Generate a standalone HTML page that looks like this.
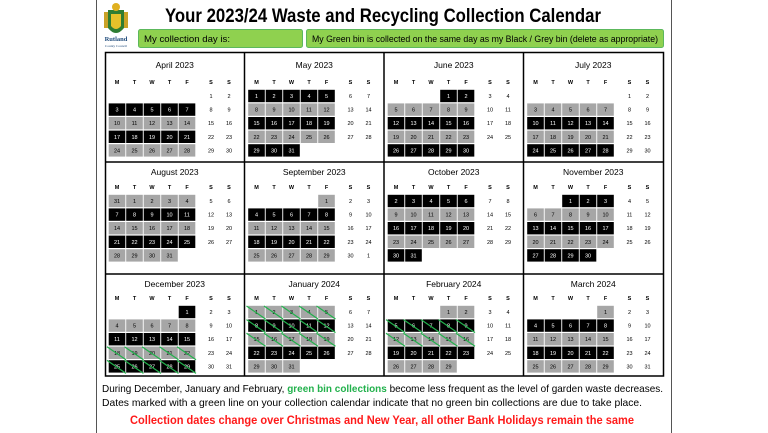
<!DOCTYPE html>
<html><head><meta charset="utf-8"><style>
html,body{margin:0;padding:0;background:#fff;}
svg{display:block;font-family:"Liberation Sans",sans-serif;}
</style></head><body>
<svg id="cal" width="768" height="433" viewBox="0 0 768 433" xmlns="http://www.w3.org/2000/svg">
<rect x="0" y="0" width="768" height="433" fill="#fff"/>
<line x1="96.5" y1="0" x2="96.5" y2="433" stroke="#555" stroke-width="1"/>
<line x1="671.5" y1="0" x2="671.5" y2="433" stroke="#555" stroke-width="1"/>
<g>
<path d="M108 10 L124 10 L124 28 Q116 38 108 28 Z" fill="#2f7d32"/>
<circle cx="116" cy="7" r="4" fill="#e0b020"/>
<path d="M111 14 L121 14 L121 26 Q116 32 111 26 Z" fill="#e6c12a"/>
<rect x="104" y="12" width="4" height="16" fill="#c9a227"/>
<rect x="124" y="12" width="4" height="16" fill="#c9a227"/>
<text x="116" y="41" font-size="6.5" font-family="Liberation Serif,serif" font-weight="bold" fill="#1e4a7a" text-anchor="middle">Rutland</text>
<text x="116" y="47" font-size="3.5" font-family="Liberation Serif,serif" fill="#1e4a7a" text-anchor="middle">County Council</text>
</g>
<text x="383" y="22" font-size="19" font-weight="bold" text-anchor="middle" textLength="436" lengthAdjust="spacingAndGlyphs">Your 2023/24 Waste and Recycling Collection Calendar</text>
<rect x="138.5" y="29.5" width="164" height="18" rx="2" fill="#8fd14f" stroke="#5cb85c"/>
<text x="144" y="42" font-size="9" textLength="86" lengthAdjust="spacingAndGlyphs">My collection day is:</text>
<rect x="306.5" y="29.5" width="357" height="18" rx="2" fill="#8fd14f" stroke="#5cb85c"/>
<text x="312" y="42" font-size="9" textLength="346" lengthAdjust="spacingAndGlyphs">My Green bin is collected on the same day as my Black / Grey bin (delete as appropriate)</text>
<g id="grid"></g>
<text x="102" y="392" font-size="10.5" textLength="561" lengthAdjust="spacingAndGlyphs">During December, January and February, <tspan fill="#22b14c" font-weight="bold">green bin collections</tspan> become less frequent as the level of garden waste decreases.</text>
<text x="102" y="406" font-size="10.5" textLength="540" lengthAdjust="spacingAndGlyphs">Dates marked with a green line on your collection calendar indicate that no green bin collections are due to take place.</text>
<text x="382" y="424" font-size="11.5" font-weight="bold" fill="#ff1a1a" text-anchor="middle" textLength="504" lengthAdjust="spacingAndGlyphs">Collection dates change over Christmas and New Year, all other Bank Holidays remain the same</text>
</svg>
<script>
const monthNames=["April 2023","May 2023","June 2023","July 2023","August 2023","September 2023","October 2023","November 2023","December 2023","January 2024","February 2024","March 2024"];
const dayHeaders=["M","T","W","T","F","S","S"];
const _=null;
const monthRows=[
 [[_,_,_,_,_,1,2],[3,4,5,6,7,8,9],[10,11,12,13,14,15,16],[17,18,19,20,21,22,23],[24,25,26,27,28,29,30]],
 [[1,2,3,4,5,6,7],[8,9,10,11,12,13,14],[15,16,17,18,19,20,21],[22,23,24,25,26,27,28],[29,30,31,_,_,_,_]],
 [[_,_,_,1,2,3,4],[5,6,7,8,9,10,11],[12,13,14,15,16,17,18],[19,20,21,22,23,24,25],[26,27,28,29,30,_,_]],
 [[_,_,_,_,_,1,2],[3,4,5,6,7,8,9],[10,11,12,13,14,15,16],[17,18,19,20,21,22,23],[24,25,26,27,28,29,30]],
 [[31,1,2,3,4,5,6],[7,8,9,10,11,12,13],[14,15,16,17,18,19,20],[21,22,23,24,25,26,27],[28,29,30,31,_,_,_]],
 [[_,_,_,_,1,2,3],[4,5,6,7,8,9,10],[11,12,13,14,15,16,17],[18,19,20,21,22,23,24],[25,26,27,28,29,30,1]],
 [[2,3,4,5,6,7,8],[9,10,11,12,13,14,15],[16,17,18,19,20,21,22],[23,24,25,26,27,28,29],[30,31,_,_,_,_,_]],
 [[_,_,1,2,3,4,5],[6,7,8,9,10,11,12],[13,14,15,16,17,18,19],[20,21,22,23,24,25,26],[27,28,29,30,_,_,_]],
 [[_,_,_,_,1,2,3],[4,5,6,7,8,9,10],[11,12,13,14,15,16,17],[18,19,20,21,22,23,24],[25,26,27,28,29,30,31]],
 [[1,2,3,4,5,6,7],[8,9,10,11,12,13,14],[15,16,17,18,19,20,21],[22,23,24,25,26,27,28],[29,30,31,_,_,_,_]],
 [[_,_,_,1,2,3,4],[5,6,7,8,9,10,11],[12,13,14,15,16,17,18],[19,20,21,22,23,24,25],[26,27,28,29,_,_,_]],
 [[_,_,_,_,1,2,3],[4,5,6,7,8,9,10],[11,12,13,14,15,16,17],[18,19,20,21,22,23,24],[25,26,27,28,29,30,31]]
];
const rowBins=["kkgkg","kgkgk","kgkgk","ggkgk","gkgkg","gkgkg","kgkgk","kgkgk","kgkgk","gkgkg","gkgkg","gkgkg"];
const strikeRows=[[],[],[],[],[],[],[],[],[3,4],[0,1,2],[1,2],[]];
const NS="http://www.w3.org/2000/svg";
const grid=document.getElementById('grid');
function mk(t,a,p){const e=document.createElementNS(NS,t);for(const k in a)e.setAttribute(k,a[k]);(p||grid).appendChild(e);return e;}
const gx0=105,colW=139.5;
const bandTop=[52,162,274],bandBot=[162,274,376];
const titleY=[68,175,287],headY=[84,189,300],firstRowY=[96,201,312];
const colX=[12,29.5,47,64.5,82,106,124];
mk('rect',{x:gx0+0.5,y:52.5,width:558,height:323.5,fill:'none',stroke:'#000','stroke-width':1.5});
monthNames.forEach((name,m)=>{
 const c=m%4,r=Math.floor(m/4);
 const px=gx0+c*colW;
 const g=mk('g',{});
 
 
 if(c>0){mk('line',{x1:px,y1:bandTop[r],x2:px,y2:bandBot[r],stroke:'#000','stroke-width':1.5},g);}
 if(r>0&&c==0){mk('line',{x1:gx0,y1:bandTop[r],x2:gx0+558,y2:bandTop[r],stroke:'#000','stroke-width':1.5},g);}
 const t=mk('text',{x:px+colW/2,y:titleY[r],'font-size':8.5,'text-anchor':'middle'},g);t.textContent=name;
 
 
 dayHeaders.forEach((d,i)=>{const h=mk('text',{x:px+colX[i],y:headY[r],'font-size':5.5,'font-weight':'bold','text-anchor':'middle'},g);h.textContent=d;});
 monthRows[m].forEach((row,ri)=>{
  const cy=firstRowY[r]+ri*13.6;
  const bin=rowBins[m][ri];
  const strike=strikeRows[m].indexOf(ri)>=0;
  row.forEach((d,di)=>{
   if(d===null)return;
   const cx=px+colX[di];
   let fill='#000';
   if(di<5){
    const cell=mk('rect',{x:cx-8.3,y:cy-6.2,width:16.6,height:12.4,fill:bin=='k'?'#000':'#a6a6a6'},g);
    
    
    fill=bin=='k'?'#fff':'#000';
   }
   const tx=mk('text',{x:cx,y:cy+2,'font-size':5.5,'text-anchor':'middle',fill:fill},g);tx.textContent=d;
   if(di<5&&strike){
    const ln=mk('line',{x1:cx-10,y1:cy-6,x2:cx+9,y2:cy+7,stroke:'#22b14c','stroke-width':1.2},g);
    
    
   }
  });
 });
});
</script>
</body></html>
